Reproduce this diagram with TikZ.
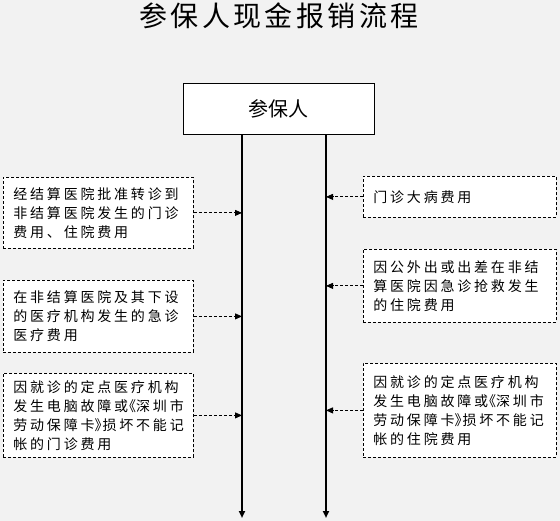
\documentclass[tikz,border=0pt]{standalone}
\usepackage{fontspec}
\usetikzlibrary{arrows.meta}
\newfontfamily\cjk{Noto Sans CJK SC}
\newfontfamily\cjksp[LetterSpace=20]{Noto Sans CJK SC}
\newfontfamily\cjktitle[LetterSpace=12]{Noto Sans CJK SC}
\newcommand\lbk{\makebox[8pt][r]{《}}
\newcommand\rbk{\makebox[8pt][l]{》}}
\definecolor{bg}{HTML}{F2F2F2}
\tikzset{
  dbox/.style={draw=black, fill=white, dash pattern=on 3pt off 2pt, line width=0.8pt,
    align=left, inner xsep=10pt, inner ysep=0pt, anchor=north west,
    font={\cjksp\fontsize{14}{19}\selectfont}},
  darrow/.style={dash pattern=on 3pt off 2pt, line width=0.8pt, -{Triangle[length=7pt,width=6pt]}},
  mainline/.style={line width=1.8pt, -{Triangle[length=7pt,width=6pt]}},
}
\begin{document}
\begin{tikzpicture}[x=1pt,y=-1pt]
\fill[bg] (0,0) rectangle (560,521);
\useasboundingbox (0,0) rectangle (560,521);
\node[font={\cjktitle\fontsize{28}{32}\selectfont}] (title) at (279,16) {参保人现金报销流程};
\node[draw=black, fill=white, line width=0.8pt, minimum width=191pt, minimum height=51pt,
  font={\cjk\fontsize{20}{24}\selectfont}] (main) at (278.5,108.5) {参保人};
\coordinate (lbot) at (242,518);
\coordinate (rbot) at (326,518);
\draw[mainline] (main.south -| lbot) -- (lbot);
\draw[mainline] (main.south -| rbot) -- (rbot);
% left boxes
\node[dbox, text width=170pt, minimum height=71pt] (l1) at (3,177)
  {经结算医院批准转诊到\\非结算医院发生的门诊\\费用、住院费用};
\node[dbox, text width=170pt, minimum height=72pt] (l2) at (3,280)
  {在非结算医院及其下设\\的医疗机构发生的急诊\\医疗费用};
\node[dbox, text width=170pt, minimum height=84pt] (l3) at (3,373)
  {因就诊的定点医疗机构\\发生电脑故障或\lbk 深圳市\\劳动保障卡\rbk 损坏不能记\\帐的门诊费用};
% right boxes
\node[dbox, text width=173pt, minimum height=41pt] (r1) at (363,176)
  {门诊大病费用};
\node[dbox, text width=173pt, minimum height=73pt] (r2) at (363,249)
  {因公外出或出差在非结\\算医院因急诊抢救发生\\的住院费用};
\node[dbox, text width=173pt, minimum height=94pt] (r3) at (363,363)
  {因就诊的定点医疗机构\\发生电脑故障或\lbk 深圳市\\劳动保障卡\rbk 损坏不能记\\帐的住院费用};
% arrows
\foreach \b in {l1,l2,l3} \draw[darrow] (\b.east) -- (\b.east -| lbot);
\foreach \b in {r1,r2,r3} \draw[darrow] (\b.west) -- (\b.west -| rbot);
\end{tikzpicture}
\end{document}
